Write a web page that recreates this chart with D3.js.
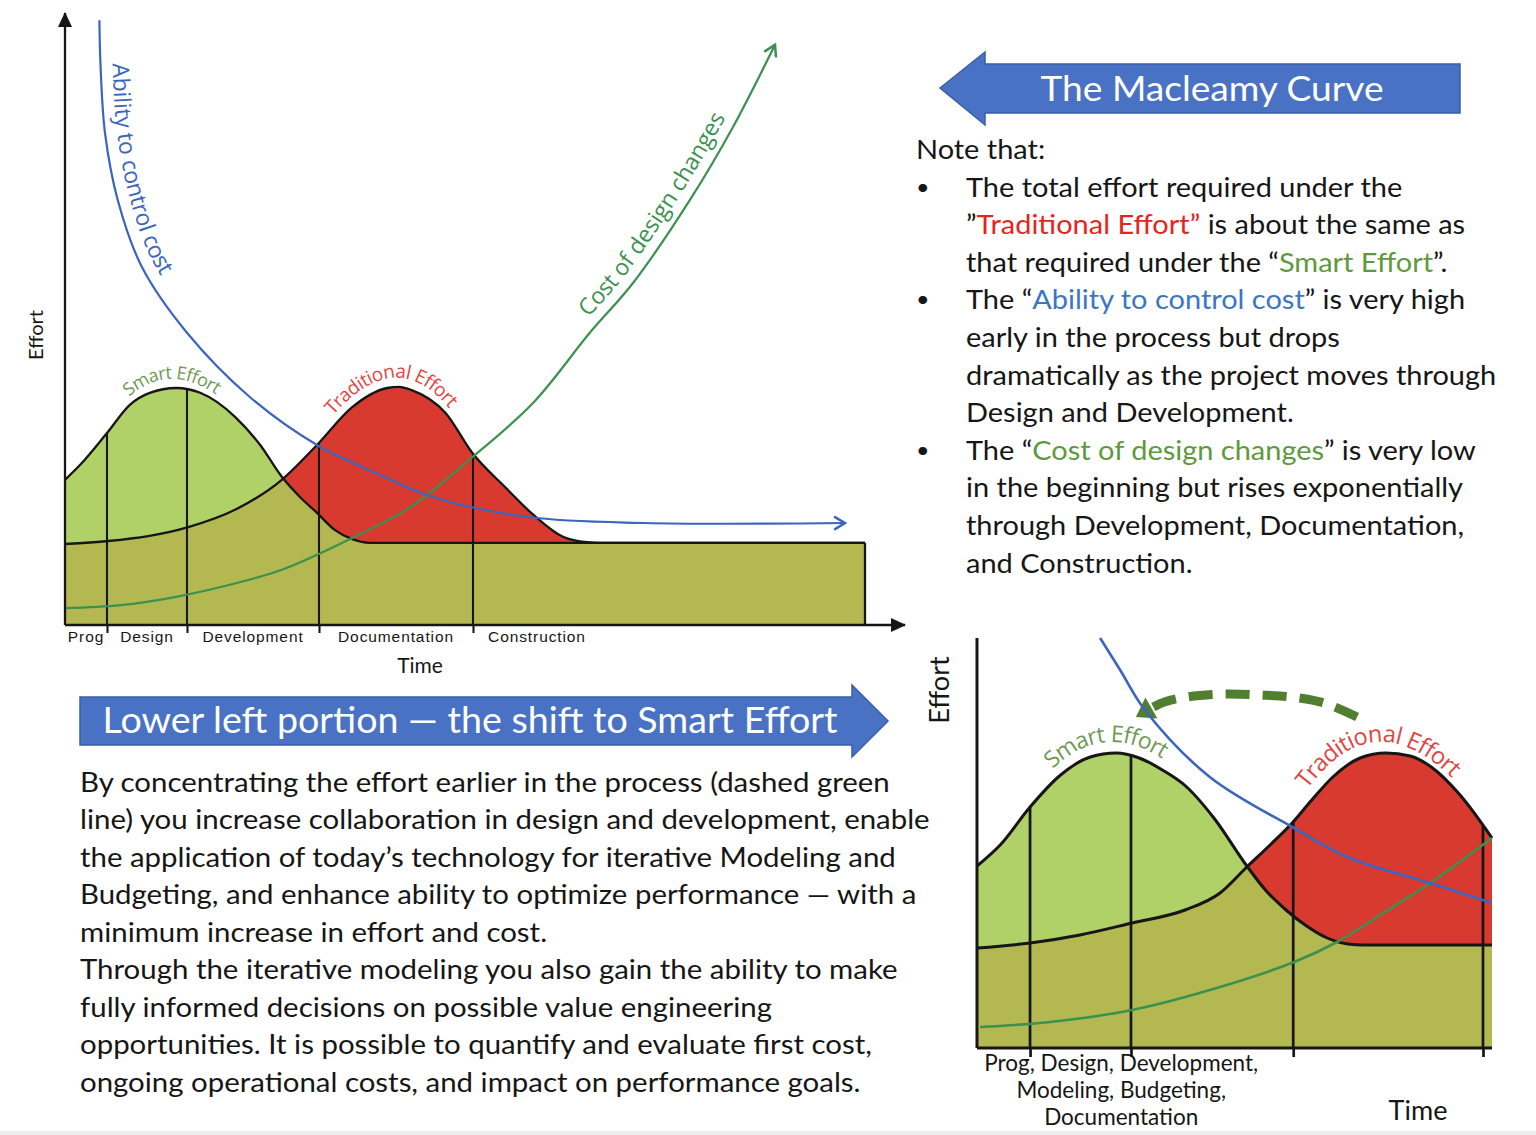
<!DOCTYPE html>
<html>
<head>
<meta charset="utf-8">
<script src="https://cdn.jsdelivr.net/npm/d3@7"></script>
<style>
  body { margin: 0; background: #fff; }
  svg { display: block; }
</style>
</head>
<body>
<div id="canvas"></div>
<script>
const width = 1536, height = 1135;

// ---- main Macleamy chart (time 0-100, effort 0-100) ----
const phaseNames = ["Prog", "Design", "Development", "Documentation", "Construction"];
const phaseEdges = [0, 5.25, 15.25, 31.75, 51, 67];

const smartT = [0, 1.9, 5.25, 8.1, 10.6, 13.9, 16.9, 21.25, 24.4, 27.1, 29.4, 31.5, 33.75, 35.9, 38.1, 100];
const smartE = [24.2, 26.7, 32, 36.7, 38.7, 39.5, 38.7, 34.7, 30, 24.7, 21.3, 18.7, 15.8, 14.3, 13.7, 13.7];

const tradT = [0, 5.4, 15.4, 21.25, 27.1, 31.5, 35.9, 40.25, 41.75, 43.25, 47.6, 50.9, 55, 58.6, 62.25, 65.25, 66.9, 100];
const tradE = [13.5, 14, 16.3, 19.2, 24.2, 30, 36.3, 39.5, 39.7, 39.2, 35.3, 28.7, 23, 18.3, 14.7, 13.8, 13.7, 13.7];

const controlT = [4.3, 4.45, 5, 6.6, 9.6, 15.25, 23.1, 31.5, 38.9, 46.1, 57.9, 72.5, 97.5];
const controlE = [100.8, 93, 82, 70.8, 59.7, 48.7, 38, 30, 25.3, 21.3, 18, 17, 17];

const costT = [0, 6.9, 13.9, 20.6, 27.1, 35.9, 43.25, 50.5, 58.5, 65.6, 71, 78.1, 83.5, 88.75];
const costE = [2.8, 3.3, 4.7, 6.7, 9.2, 14.5, 19.7, 27.5, 37, 48.7, 57, 70.8, 83, 96.7];

// ---- zoomed detail chart (lower right) ----
const zoomEdges = [0, 10.3, 29.9, 61.4, 98.25];
const zoomLabel = ["Prog, Design, Development,", "Modeling, Budgeting,", "Documentation"];
const zoomLabelT = 28;

const zoomSmartT = [0, 4.5, 10.3, 16, 22, 27, 31.5, 36, 40.5, 46, 52.4, 56, 60, 64, 68, 72, 75, 100];
const zoomSmartE = [45.5, 50.75, 60.25, 68, 72.75, 73.75, 72.5, 69.5, 65.5, 57.5, 45.5, 39.5, 34.5, 30.5, 27.5, 26, 25.75, 25.75];

const zoomTradT = [0, 10.3, 20, 30.1, 40.4, 47.2, 52.4, 56.9, 61.2, 65, 69.1, 74.4, 79.4, 84.1, 88.2, 93.8, 100];
const zoomTradE = [25, 26.25, 28.25, 31.25, 34.5, 38.75, 45.25, 50.75, 56.25, 62, 67.75, 72.5, 73.75, 73, 70.25, 63.25, 52.5];

const zoomControlT = [23.9, 27.8, 32.6, 45.2, 61.2, 72.4, 88, 100];
const zoomControlE = [102.5, 94.5, 84.5, 67.75, 55.25, 47.5, 41.25, 36.25];

const zoomCostT = [0.6, 14.2, 30.1, 45.2, 61.6, 69.9, 78.3, 88, 100];
const zoomCostE = [5.25, 6.5, 9.5, 14.5, 21.5, 26.5, 33.25, 41.25, 52.5];

const shiftT = [73.8, 67.4, 61.2, 54.8, 48.5, 42.1, 36.4, 33.2];
const shiftE = [82.75, 86.25, 87.75, 88.25, 88.5, 88, 86.5, 84.5];

// ---- text ----
const noteLines = [
  { bullet: false, segs: [["Note that:", "ink"]] },
  { bullet: true,  segs: [["The total effort required under the", "ink"]] },
  { bullet: false, segs: [["\u201D", "ink"], ["Traditional Effort\u201D", "red"], [" is about the same as", "ink"]] },
  { bullet: false, segs: [["that required under the \u201C", "ink"], ["Smart Effort", "green"], ["\u201D.", "ink"]] },
  { bullet: true,  segs: [["The \u201C", "ink"], ["Ability to control cost", "blue"], ["\u201D is very high", "ink"]] },
  { bullet: false, segs: [["early in the process but drops", "ink"]] },
  { bullet: false, segs: [["dramatically as the project moves through", "ink"]] },
  { bullet: false, segs: [["Design and Development.", "ink"]] },
  { bullet: true,  segs: [["The \u201C", "ink"], ["Cost of design changes", "green"], ["\u201D is very low", "ink"]] },
  { bullet: false, segs: [["in the beginning but rises exponentially", "ink"]] },
  { bullet: false, segs: [["through Development, Documentation,", "ink"]] },
  { bullet: false, segs: [["and Construction.", "ink"]] }
];

const shiftLines = [
  "By concentrating the effort earlier in the process (dashed green",
  "line) you increase collaboration in design and development, enable",
  "the application of today\u2019s technology for iterative Modeling and",
  "Budgeting, and enhance ability to optimize performance \u2014 with a",
  "minimum increase in effort and cost.",
  "Through the iterative modeling you also gain the ability to make",
  "fully informed decisions on possible value engineering",
  "opportunities. It is possible to quantify and evaluate first cost,",
  "ongoing operational costs, and impact on performance goals."
];

const colors = {
  smart: "#b0d068", trad: "#d83a30", base: "#b4b850", ink: "#161616",
  control: "#3a66c0", cost: "#3b9150", shift: "#4f7f2f",
  red: "#e8231c", green: "#5e9a3c", blue: "#3b76c4",
  smartLabel: "#6f9a55", tradLabel: "#e2453f",
  banner: "#4a72c4", bannerEdge: "#3a5ea8"
};

const zip = (a, b) => a.map((v, i) => [v, b[i]]);

const svg = d3.select("#canvas").append("svg").attr("width", width).attr("height", height)
  .style("font-family", "Lato, 'Open Sans', sans-serif");
const defs = svg.append("defs");

svg.append("rect").attr("x", 0).attr("y", 1131).attr("width", width).attr("height", 4).attr("fill", "#eeeeee");

function marker(id, color, d, size, filled) {
  const m = defs.append("marker").attr("id", id).attr("viewBox", "-20 -20 40 40")
    .attr("markerWidth", size).attr("markerHeight", size).attr("markerUnits", "userSpaceOnUse")
    .attr("orient", "auto").attr("refX", 0).attr("refY", 0);
  const p = m.append("path").attr("d", d);
  if (filled) p.attr("fill", color);
  else p.attr("fill", "none").attr("stroke", color).attr("stroke-width", 2.5).attr("stroke-linecap", "round");
}
marker("axisArrow", colors.ink, "M-14,-7 L1,0 L-14,7 Z", 40, true);
marker("blueArrow", colors.control, "M-10,-6 L0,0 L-10,6", 40, false);
marker("greenArrow", colors.cost, "M-10,-6 L0,0 L-10,6", 40, false);
marker("shiftArrow", colors.shift, "M-4,-12 L14,0 L-4,12 Z", 40, true);

function startAt(node, test) {
  const L = node.getTotalLength();
  for (let s = 0; s <= L; s += 1) if (test(node.getPointAtLength(s))) return s;
  return 0;
}

function drawPanel(cfg) {
  const { id, x, y, sw } = cfg;
  const series = {
    smart: zip(cfg.smartT, cfg.smartE), trad: zip(cfg.tradT, cfg.tradE),
    control: zip(cfg.controlT, cfg.controlE), cost: zip(cfg.costT, cfg.costE)
  };
  const { smart, trad } = series;
  const area = d3.area().x(d => x(d[0])).y0(y(0)).y1(d => y(d[1])).curve(d3.curveMonotoneX);
  const line = d3.line().x(d => x(d[0])).y(d => y(d[1])).curve(d3.curveMonotoneX);
  const free = d3.line().x(d => x(d[0])).y(d => y(d[1])).curve(d3.curveCatmullRom.alpha(0.5));
  // one quadratic segment through three points of a series (shoulder, peak, shoulder)
  const arc = (pts, lift) => {
    const [a, b, c] = pts.map(d => [x(d[0]), y(d[1]) - lift]);
    const p = d3.path();
    p.moveTo(a[0], a[1]);
    p.quadraticCurveTo(2 * b[0] - (a[0] + c[0]) / 2, 2 * b[1] - (a[1] + c[1]) / 2, c[0], c[1]);
    return p.toString();
  };

  defs.append("clipPath").attr("id", id + "-smart").append("path").attr("d", area(smart));
  const uni = defs.append("clipPath").attr("id", id + "-union");
  uni.append("path").attr("d", area(smart));
  uni.append("path").attr("d", area(trad));

  const g = svg.append("g");
  g.append("path").attr("d", area(smart)).attr("fill", colors.smart);
  g.append("path").attr("d", area(trad)).attr("fill", colors.trad);
  g.append("path").attr("d", area(trad)).attr("fill", colors.base).attr("clip-path", `url(#${id}-smart)`);

  // phase dividers, clipped to the filled region
  g.append("g").attr("clip-path", `url(#${id}-union)`)
    .selectAll("line").data(cfg.dividers).join("line")
    .attr("x1", d => x(d)).attr("x2", d => x(d)).attr("y1", y(0)).attr("y2", y(100))
    .attr("stroke", colors.ink).attr("stroke-width", sw * 0.9);

  g.append("path").attr("d", line(trad))
    .attr("fill", "none").attr("stroke", colors.ink).attr("stroke-width", sw);
  g.append("path").attr("d", line(smart))
    .attr("fill", "none").attr("stroke", colors.ink).attr("stroke-width", sw);
  if (cfg.closeRight) {
    g.append("line").attr("x1", x(100)).attr("x2", x(100)).attr("y1", y(0)).attr("y2", y(smart[smart.length - 1][1]))
      .attr("stroke", colors.ink).attr("stroke-width", sw);
  }

  if (cfg.shiftT) {
    g.append("path").attr("d", free(zip(cfg.shiftT, cfg.shiftE)))
      .attr("fill", "none").attr("stroke", colors.shift).attr("stroke-width", 9)
      .attr("stroke-dasharray", "24,13").attr("marker-end", "url(#shiftArrow)");
  }

  g.append("path").attr("d", free(series.cost))
    .attr("fill", "none").attr("stroke", colors.cost).attr("stroke-width", cfg.curveW)
    .attr("marker-end", cfg.arrows ? "url(#greenArrow)" : null);
  g.append("path").attr("d", free(series.control))
    .attr("fill", "none").attr("stroke", colors.control).attr("stroke-width", cfg.curveW)
    .attr("marker-end", cfg.arrows ? "url(#blueArrow)" : null);

  // ticks under the axis
  g.append("g").attr("transform", `translate(0,${y(0)})`)
    .call(d3.axisBottom(x).tickValues(cfg.dividers).tickFormat("").tickSize(cfg.tick).tickSizeOuter(0))
    .call(a => a.select(".domain").remove())
    .selectAll("line").attr("stroke", colors.ink).attr("stroke-width", sw * 0.9);

  // axes
  g.append("line").attr("x1", x(0)).attr("y1", y(0)).attr("x2", x(cfg.xMax)).attr("y2", y(0))
    .attr("stroke", colors.ink).attr("stroke-width", sw).attr("marker-end", cfg.arrows ? "url(#axisArrow)" : null);
  g.append("line").attr("x1", x(0)).attr("y1", y(0)).attr("x2", x(0)).attr("y2", y(cfg.yMax))
    .attr("stroke", colors.ink).attr("stroke-width", sw).attr("marker-end", cfg.arrows ? "url(#axisArrow)" : null);

  // curved labels: along the full curve, or along a smooth arc over its hump
  cfg.labels.forEach((l, i) => {
    const pid = `${id}-guide${i}`;
    const d = l.through
      ? arc(series[l.series].filter(p => l.through.includes(p[0])), l.lift)
      : free(series[l.series]);
    const node = defs.append("path").attr("id", pid).attr("d", d).node();
    g.append("text").attr("font-family", "'Open Sans', sans-serif").attr("font-size", l.size)
      .attr("fill", l.color).attr("dy", l.dy || 0).attr("letter-spacing", l.ls || 0)
      .append("textPath").attr("href", "#" + pid)
      .attr("startOffset", startAt(node, l.test)).text(l.text);
  });
  return g;
}

// ---- main chart ----
const x1 = d3.scaleLinear().domain([0, 100]).range([65, 865]);
const y1 = d3.scaleLinear().domain([0, 100]).range([625, 25]);
const main = drawPanel({
  id: "main", x: x1, y: y1, sw: 2.3, curveW: 2.2, tick: 8, arrows: true, closeRight: true,
  xMax: 105, yMax: 102,
  smartT, smartE, tradT, tradE, controlT, controlE, costT, costE,
  dividers: phaseEdges.slice(1, 5),
  labels: [
    { series: "control", text: "Ability to control cost", color: colors.control, size: 23, dy: -12, test: p => p.y >= 64 },
    { series: "cost", text: "Cost of design changes", color: colors.cost, size: 23, dy: -11, test: p => p.x >= 596 },
    { series: "smart", through: [5.25, 13.9, 24.4], lift: 9, text: "Smart Effort", color: colors.smartLabel, size: 18, ls: -0.6, test: p => p.x >= 129 },
    { series: "trad", through: [31.5, 41.75, 50.9], lift: 9, text: "Traditional Effort", color: colors.tradLabel, size: 19, ls: -0.6, test: p => p.x >= 333 }
  ]
});
main.selectAll("text.phase").data(phaseNames).join("text").attr("class", "phase")
  .attr("x", (d, i) => x1((phaseEdges[i] + phaseEdges[i + 1]) / 2)).attr("y", 642)
  .attr("text-anchor", "middle").attr("font-family", "'Liberation Sans', Arial, sans-serif")
  .attr("font-size", 15.5).attr("letter-spacing", 0.9).attr("fill", colors.ink).text(d => d);
main.append("text").attr("x", 420).attr("y", 673).attr("text-anchor", "middle")
  .attr("font-size", 21).attr("fill", colors.ink).text("Time");
main.append("text").attr("transform", "translate(43,335) rotate(-90)").attr("text-anchor", "middle")
  .attr("font-size", 20).attr("fill", colors.ink).text("Effort");

// ---- detail chart ----
const x2 = d3.scaleLinear().domain([0, 100]).range([977, 1492]);
const y2 = d3.scaleLinear().domain([0, 100]).range([1048, 648]);
const detail = drawPanel({
  id: "zoom", x: x2, y: y2, sw: 3, curveW: 2.6, tick: 9, arrows: false, closeRight: false,
  xMax: 100, yMax: 102.5,
  smartT: zoomSmartT, smartE: zoomSmartE, tradT: zoomTradT, tradE: zoomTradE,
  controlT: zoomControlT, controlE: zoomControlE, costT: zoomCostT, costE: zoomCostE,
  shiftT, shiftE,
  dividers: zoomEdges.slice(1),
  labels: [
    { series: "smart", through: [10.3, 27, 46], lift: 11, text: "Smart Effort", color: colors.smartLabel, size: 23, ls: -0.8, test: p => p.x >= 1052 },
    { series: "trad", through: [61.2, 79.4, 100], lift: 11, text: "Traditional Effort", color: colors.tradLabel, size: 23.5, ls: -0.7, test: p => p.x >= 1307 }
  ]
});
detail.selectAll("text.zl").data(zoomLabel).join("text").attr("class", "zl")
  .attr("x", x2(zoomLabelT)).attr("y", (d, i) => 1071 + i * 27).attr("text-anchor", "middle")
  .attr("font-size", 22.5).attr("fill", colors.ink).text(d => d);
detail.append("text").attr("x", 1418).attr("y", 1120).attr("text-anchor", "middle")
  .attr("font-size", 27).attr("fill", colors.ink).text("Time");
detail.append("text").attr("transform", "translate(949,690) rotate(-90)").attr("text-anchor", "middle")
  .attr("font-size", 27).attr("fill", colors.ink).text("Effort");

// ---- banners ----
const banners = [
  { pts: [[940, 88], [985, 52], [985, 64], [1460, 64], [1460, 113], [985, 113], [985, 125]],
    text: "The Macleamy Curve", tx: 1212, ty: 101, size: 35, w: 343 },
  { pts: [[80, 697], [852, 697], [852, 685], [888, 721], [852, 757], [852, 745], [80, 745]],
    text: "Lower left portion \u2014 the shift to Smart Effort", tx: 470, ty: 733, size: 36, w: 735 }
];
banners.forEach(b => {
  svg.append("polygon").attr("points", b.pts.map(p => p.join(",")).join(" "))
    .attr("fill", colors.banner).attr("stroke", colors.bannerEdge).attr("stroke-width", 1.5);
  svg.append("text").attr("x", b.tx).attr("y", b.ty).attr("text-anchor", "middle")
    .attr("font-size", b.size).attr("fill", "#fff").attr("textLength", b.w)
    .attr("lengthAdjust", "spacingAndGlyphs").text(b.text);
});

// ---- paragraphs ----
// squeeze a block horizontally so its longest line ends at `right`, keeping indents in place
function fitBlock(g, x0, right) {
  let maxR = 0;
  g.selectAll("text").each(function () {
    const b = this.getBBox();
    maxR = Math.max(maxR, b.x + b.width);
  });
  const k = (right - x0) / (maxR - x0);
  g.selectAll("text").attr("x", function () { return x0 + (+this.getAttribute("x") - x0) / k; });
  g.attr("transform", `translate(${x0},0) scale(${k},1) translate(${-x0},0)`);
}

const notes = svg.append("g");
noteLines.forEach((ln, i) => {
  const yy = 159 + i * 37.6;
  if (ln.bullet) notes.append("text").attr("x", 916).attr("y", yy - 2).attr("font-size", 21)
    .attr("fill", colors.ink).text("\u2022");
  const t = notes.append("text").attr("x", i === 0 ? 916 : 966).attr("y", yy)
    .attr("font-size", 26).attr("fill", colors.ink);
  ln.segs.forEach(([s, c]) => t.append("tspan").attr("fill", colors[c]).text(s));
});
fitBlock(notes, 916, 1502);

const para = svg.append("g");
para.selectAll("text").data(shiftLines).join("text")
  .attr("x", 80).attr("y", (d, i) => 792 + i * 37.5)
  .attr("font-size", 26.5).attr("fill", colors.ink).text(d => d);
fitBlock(para, 80, 930);
</script>
</body>
</html>
